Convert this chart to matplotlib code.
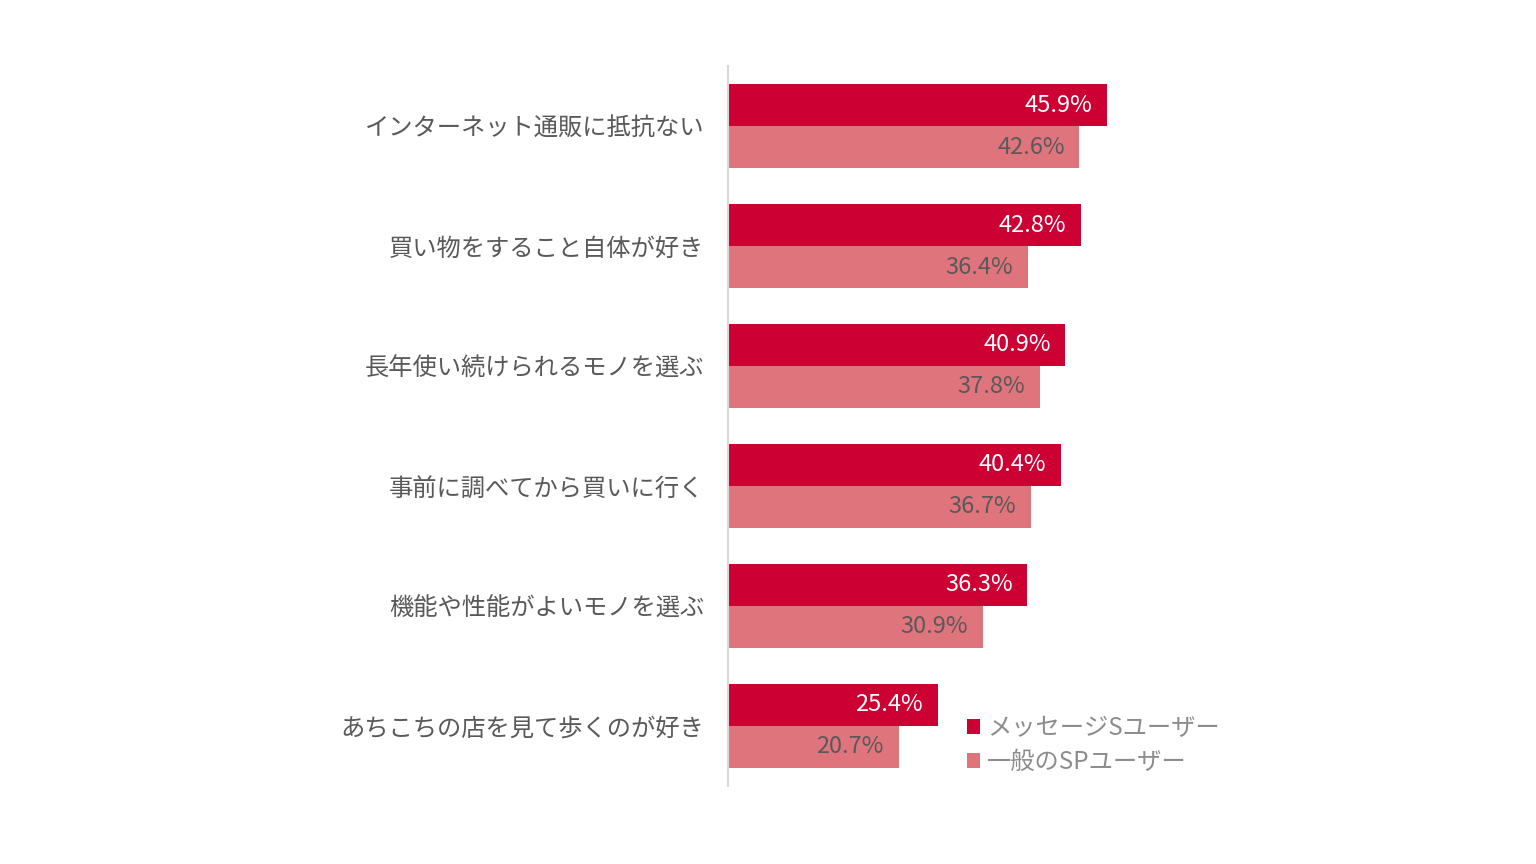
import matplotlib.pyplot as plt
import numpy as np

plt.rcParams['font.family'] = ['Noto Sans CJK JP', 'DejaVu Sans']

categories = ['インターネット通販に抵抗ない', '買い物をすること自体が好き', '長年使い続けられるモノを選ぶ',
              '事前に調べてから買いに行く', '機能や性能がよいモノを選ぶ', 'あちこちの店を見て歩くのが好き']
message_s = [45.9, 42.8, 40.9, 40.4, 36.3, 25.4]
general_sp = [42.6, 36.4, 37.8, 36.7, 30.9, 20.7]
series_names = ['メッセージSユーザー', '一般のSPユーザー']

dark = '#CC0033'
light = '#E0747D'
grey = '#595959'

fig = plt.figure(figsize=(15.36, 8.64), dpi=100)
ax = fig.add_axes([0.474, 0.0903, 0.32, 0.8333])

y = np.arange(len(categories))
h = 0.35
b1 = ax.barh(y - h / 2, message_s, height=h, color=dark, label=series_names[0])
b2 = ax.barh(y + h / 2, general_sp, height=h, color=light, label=series_names[1])

for bar, v in zip(b1, message_s):
    ax.text(v - 1.8, bar.get_y() + bar.get_height() / 2, f'{v:.1f}%', ha='right', va='center',
            color='white', fontsize=17)
for bar, v in zip(b2, general_sp):
    ax.text(v - 1.8, bar.get_y() + bar.get_height() / 2, f'{v:.1f}%', ha='right', va='center',
            color=grey, fontsize=17)

ax.set_ylim(len(categories) - 0.5, -0.5)
ax.set_xlim(0, 59.6)
ax.set_yticks(y)
ax.set_yticklabels(categories, fontsize=17.5, color=grey)
ax.tick_params(axis='y', length=0, pad=17)
ax.set_xticks([])
for s in ['top', 'right', 'bottom']:
    ax.spines[s].set_visible(False)
ax.spines['left'].set_color('#D9D9D9')
ax.spines['left'].set_linewidth(1.5)

leg = ax.legend(loc='upper left', bbox_to_anchor=(0.615, 0.198), bbox_transform=fig.transFigure,
                frameon=False, fontsize=17.5, handlelength=0.55, handleheight=0.55, handletextpad=0.3,
                labelspacing=0.35)
for t in leg.get_texts():
    t.set_color('#8C8C8C')

fig.savefig('out.png', dpi=100)
